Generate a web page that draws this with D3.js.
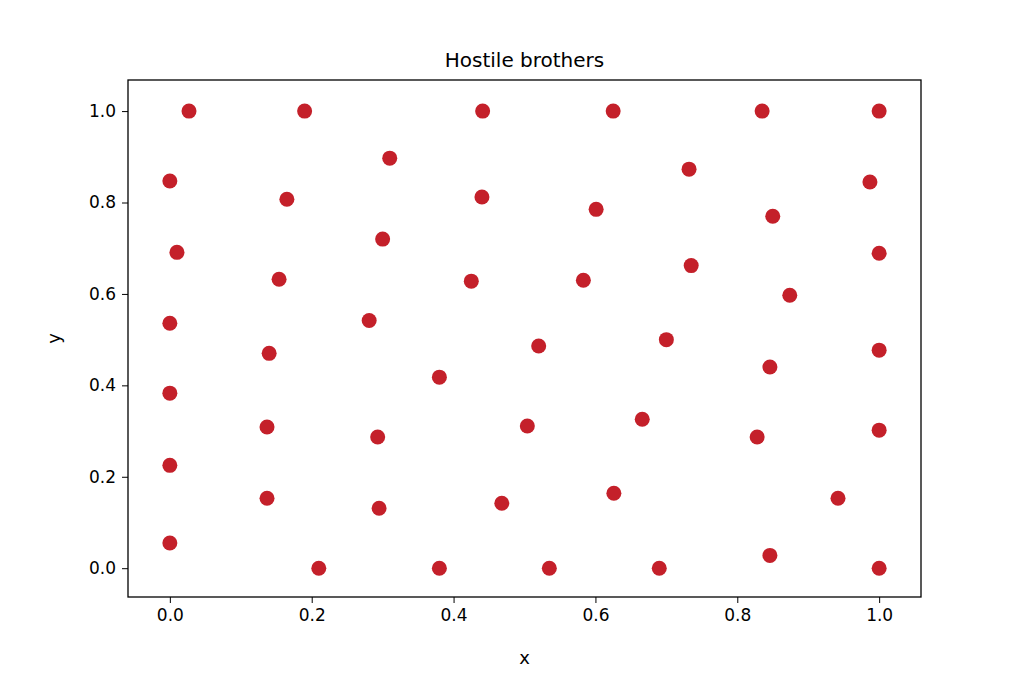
<!DOCTYPE html>
<html><head><meta charset="utf-8">
<script src="https://cdn.jsdelivr.net/npm/d3@7"></script>
<style>body{margin:0;background:#fff}text{font-family:"DejaVu Sans",sans-serif}</style>
</head><body><div id="graph"></div>
<script>
var xs = [0.027,0.19,0.441,0.625,0.835,1, 0.31,0.732,0,0.165,0.44,0.601,0.85,0.987,
  0.30,0.01,1,0.154,0.425,0.583,0.735,0.874, 0.281,0,0.14,0.52,0.70,0.846,1,
  0.38,0,0.137,0.293,0.504,0.666,0.828,1, 0,0.137,0.295,0.468,0.626,0.942,
  0,0.21,0.38,0.535,0.69,0.846,1];
var ys = [1,1,1,1,1,1, 0.897,0.873,0.847,0.807,0.812,0.785,0.770,0.845,
  0.72,0.691,0.689,0.632,0.628,0.630,0.662,0.597, 0.542,0.536,0.470,0.486,0.5,0.44,0.477,
  0.418,0.383,0.309,0.287,0.311,0.326,0.287,0.302, 0.225,0.153,0.131,0.142,0.164,0.153,
  0.055,0,0,0,0,0.028,0];
var ticks = [0,0.2,0.4,0.6,0.8,1.0];

var m = {l:128, t:80, r:103, b:86};
var w = 1024 - m.l - m.r, h = 683 - m.t - m.b;
var x = d3.scaleLinear().domain([-0.059,1.059]).range([0,w]);
var y = d3.scaleLinear().domain([-0.063,1.068]).range([h,0]);

var svg = d3.select("#graph").append("svg").attr("width",1024).attr("height",683);
var g = svg.append("g").attr("transform","translate("+m.l+","+m.t+")");

g.append("g").attr("transform","translate(0,"+h+")")
  .call(d3.axisBottom(x).tickValues(ticks).tickFormat(d3.format(".1f")).tickSizeOuter(0).tickSize(6).tickPadding(6))
  .selectAll("text").attr("font-size",17).attr("fill","#000");
g.append("g")
  .call(d3.axisLeft(y).tickValues(ticks).tickFormat(d3.format(".1f")).tickSizeOuter(0).tickSize(6).tickPadding(6))
  .selectAll("text").attr("font-size",17).attr("fill","#000");
g.selectAll(".domain").remove();
g.append("rect").attr("width",w).attr("height",h).attr("fill","none").attr("stroke","#000").attr("stroke-width",1.3);

g.selectAll("circle").data(xs).enter().append("circle")
  .attr("cx",function(d){return x(d);})
  .attr("cy",function(d,i){return y(ys[i]);})
  .attr("r",7.5).attr("fill","#c4202a");

svg.append("text").attr("x",m.l+w/2).attr("y",67).attr("text-anchor","middle").attr("font-size",20).text("Hostile brothers");
svg.append("text").attr("x",m.l+w/2).attr("y",664).attr("text-anchor","middle").attr("font-size",18).text("x");
svg.append("text").attr("transform","translate(60,"+(m.t+h/2)+") rotate(-90)").attr("text-anchor","middle").attr("font-size",18).text("y");
</script></body></html>
